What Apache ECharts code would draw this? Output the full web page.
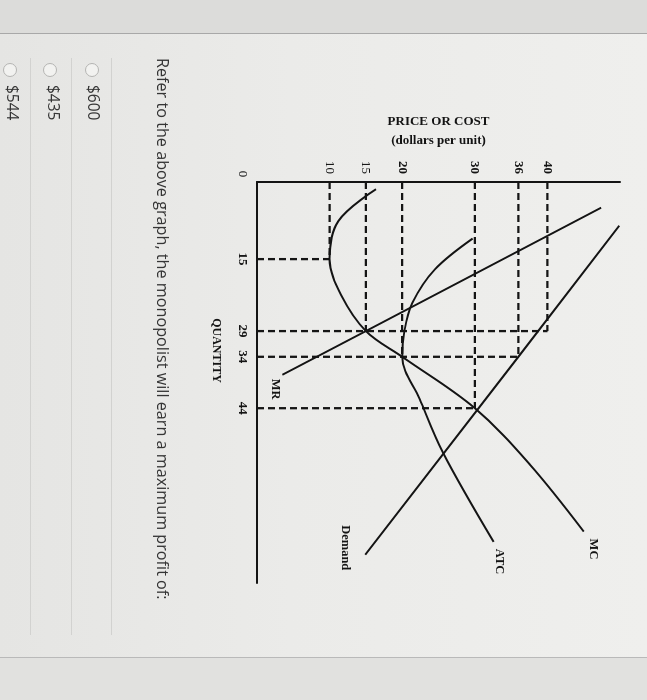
<!DOCTYPE html>
<html>
<head>
<meta charset="utf-8">
<script src="https://cdn.jsdelivr.net/npm/echarts/dist/echarts.min.js"></script>
<style>
  html, body { margin:0; padding:0; }
  body { width:647px; height:700px; overflow:hidden; background:#e4e4e2; position:relative; }
  #page { position:absolute; left:0; top:0; width:700px; height:647px;
          transform-origin:0 0; transform:translate(647px,0) rotate(90deg);
          background:linear-gradient(to bottom, #efefed 0%, #ebebe9 55%, #e5e5e3 100%);
          overflow:hidden; }
  #bandL { position:absolute; left:0; top:0; width:33px; height:647px; background:#dcdcda; border-right:1px solid #a8a8a8; }
  #bandR { position:absolute; left:657px; top:0; width:43px; height:647px; background:#e1e1df; border-left:1px solid #b9b9b9; }
  #chart { position:absolute; left:0; top:0; width:700px; height:647px; }
  .txt { position:absolute; font-family:"Open Sans", sans-serif; color:#353535; white-space:nowrap; }
  #question { left:58px; top:474px; font-size:16.2px; line-height:20px; }
  .sep { position:absolute; left:58px; width:577px; height:0; border-top:1px solid #d2d2d0; }
  .radio { position:absolute; width:12px; height:12px; border:1px solid #b3b3b1; border-radius:50%; background:#f2f2f0; }
  .opt { font-size:15.5px; line-height:20px; left:85px; }
</style>
</head>
<body>
<div id="page">
  <div id="bandL"></div>
  <div id="bandR"></div>
  <div id="chart"></div>
  <div class="txt" id="question">Refer to the above graph, the monopolist will earn a maximum profit of:</div>
  <div class="sep" style="top:535px"></div>
  <div class="sep" style="top:575px"></div>
  <div class="sep" style="top:616px"></div>
  <div class="radio" style="left:63px; top:548px"></div>
  <div class="radio" style="left:63px; top:590px"></div>
  <div class="radio" style="left:63px; top:630px"></div>
  <div class="txt opt" style="top:543px">$600</div>
  <div class="txt opt" style="top:583px">$435</div>
  <div class="txt opt" style="top:624px">$544</div>
</div>
<script>
// ---- data (quantity, price) ----
const priceTicks = [10, 15, 20, 30, 36, 40];
const qtyTicks = [0, 15, 29, 34, 44];

const mcCurve = [[1.4, 16.4], [7.6, 11.2], [15, 10], [22, 11.6], [29, 15], [34, 20], [44, 30], [55, 37.6], [68, 45]];
const atcCurve = [[11, 29.7], [17, 24.5], [23.5, 21.4], [29, 20.3], [34, 20], [42.2, 22.4], [52.6, 25.6], [70, 32.6]];
const demandLine = [[8.5, 49.9], [34, 36], [72.5, 14.9]];
const mrLine = [[5, 47.4], [29, 15], [37.5, 3.5]];

// dashed guides: [price level, quantity where it stops]
const priceGuides = [[10, 15], [15, 29], [20, 34], [30, 44], [36, 34], [40, 29]];
// dashed guides: [quantity level, price where it stops]
const qtyGuides = [[15, 10], [29, 40], [34, 36], [44, 30]];

const curveLabels = { MC: 'MC', ATC: 'ATC', Demand: 'Demand', MR: 'MR' };

// ---- chart ----
const INK = '#141414';
const SERIF = '"Liberation Serif", "Times New Roman", serif';
const chart = echarts.init(document.getElementById('chart'));

function endLabelled(points, text, pos, offset) {
  return points.map((p, i) => {
    if (i !== points.length - 1) return p;
    return {
      value: p,
      label: { show: true, formatter: text, position: pos, offset: offset,
               fontFamily: SERIF, fontSize: 12.5, fontWeight: 'bold', color: INK }
    };
  });
}
function curve(name, points, smooth, labelPos, labelOffset) {
  return {
    name: name, type: 'line', smooth: smooth,
    showSymbol: true, symbolSize: 0, symbol: 'circle',
    lineStyle: { color: INK, width: 2 }, itemStyle: { color: INK },
    data: endLabelled(points, curveLabels[name], labelPos, labelOffset),
    silent: true, z: 3
  };
}
const dashStyle = { color: '#151515', width: 2.3, type: [7, 4] };
const guideSeries = [];
priceGuides.forEach(([p, q]) => guideSeries.push({
  type: 'line', symbol: 'none', silent: true, z: 2,
  lineStyle: dashStyle, data: [[0, p], [q, p]]
}));
qtyGuides.forEach(([q, p]) => guideSeries.push({
  type: 'line', symbol: 'none', silent: true, z: 2,
  lineStyle: dashStyle, data: [[q, 0], [q, p]]
}));

const tickStyle = { fontFamily: SERIF, fontSize: 13, color: INK };
const tickBold = { fontFamily: SERIF, fontSize: 13, fontWeight: 'bold', color: INK };

chart.setOption({
  animation: false,
  backgroundColor: 'transparent',
  grid: { left: 182, right: 117, top: 27, bottom: 257, outerBoundsMode: 'none', containLabel: false },
  xAxis: {
    type: 'value', min: 0, max: 78, interval: 1,
    name: 'QUANTITY', nameLocation: 'middle', nameGap: 35,
    nameTextStyle: { fontFamily: SERIF, fontSize: 12, fontWeight: 'bold', color: INK, padding: [0, 64, 0, 0] },
    axisLine: { show: true, onZero: false, lineStyle: { color: INK, width: 2 } },
    axisTick: { show: false }, splitLine: { show: false },
    axisLabel: {
      margin: 8, ...tickStyle,
      formatter: v => v === 0 ? '{o|0}' : (qtyTicks.includes(v) ? '{b|' + v + '}' : ''),
      rich: { o: { ...tickStyle, padding: [0, 16, 0, 0] }, b: tickBold }
    }
  },
  yAxis: {
    type: 'value', min: 0, max: 50, interval: 1,
    name: 'PRICE OR COST\n(dollars per unit)', nameLocation: 'middle', nameRotate: 90, nameGap: 30,
    nameTextStyle: { fontFamily: SERIF, fontSize: 13, fontWeight: 'bold', color: INK, lineHeight: 19 },
    axisLine: { show: true, onZero: false, lineStyle: { color: INK, width: 2 } },
    axisTick: { show: false }, splitLine: { show: false },
    axisLabel: {
      margin: 8, ...tickStyle,
      formatter: v => priceTicks.includes(v) ? (v >= 20 ? '{b|' + v + '}' : String(v)) : '',
      rich: { b: tickBold }
    }
  },
  series: guideSeries.concat([
    curve('MC', mcCurve, 0.35, 'right', [2, -10]),
    curve('ATC', atcCurve, 0.35, 'right', [2, -6]),
    curve('Demand', demandLine, false, 'bottom', [-7, 8]),
    curve('MR', mrLine, false, 'right', [-1, 7])
  ])
});
</script>
</body>
</html>
